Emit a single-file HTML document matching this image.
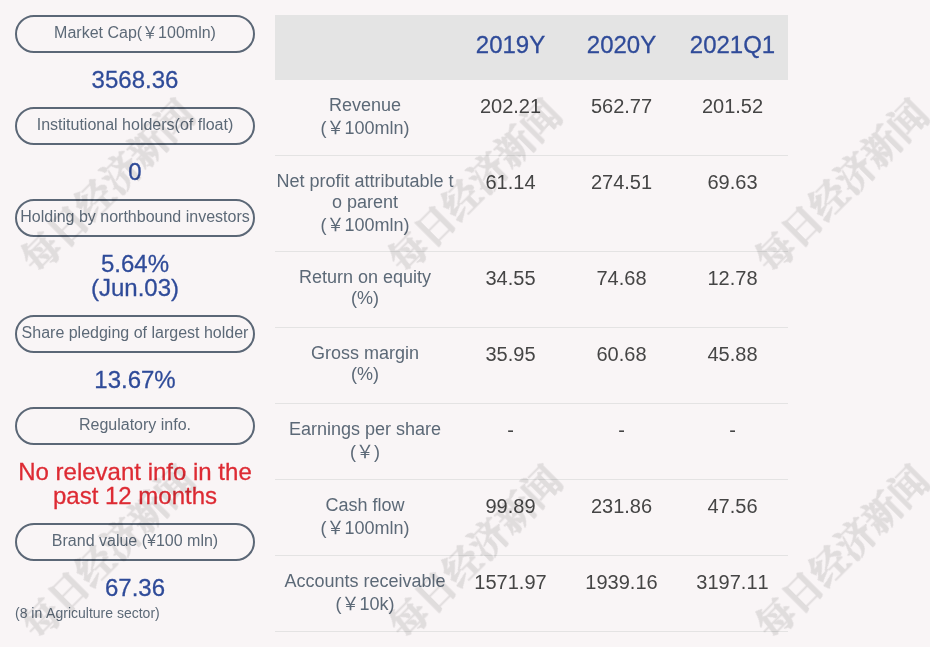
<!DOCTYPE html>
<html>
<head>
<meta charset="utf-8">
<title>Company data</title>
<style>
html,body{margin:0;padding:0;}
body{width:930px;height:647px;overflow:hidden;position:relative;background:#f9f5f6;font-family:"Liberation Sans",sans-serif;font-kerning:none;}
.wm{position:absolute;left:0;top:0;z-index:5;pointer-events:none;}
.yen{display:inline-block;vertical-align:baseline;text-align:center;font-family:"Liberation Sans","Noto Sans CJK SC",sans-serif;}
.y18{width:18px;}
.y16{width:16px;}
.left{will-change:transform;position:absolute;left:15px;top:15px;width:240px;z-index:1;}
.pill{box-sizing:border-box;width:240px;height:38px;border:2px solid #5b6776;border-radius:19px;color:#5c6977;font-size:16px;line-height:32px;text-align:center;white-space:nowrap;}
.val{-webkit-text-stroke:0.28px currentColor;color:#2f4b99;font-size:24px;line-height:24px;text-align:center;margin:15px 0 15px 0;}
.val.red{color:#dd2a33;}
.note{color:#5c6977;font-size:14px;line-height:16px;margin-top:-10px;}
table{will-change:transform;position:absolute;left:275px;top:15px;width:513px;border-collapse:separate;border-spacing:0;table-layout:fixed;z-index:1;}
th{-webkit-text-stroke:0.28px currentColor;height:65px;background:#e4e4e4;color:#2f4b99;font-size:24px;line-height:28px;font-weight:normal;padding:0 0 5px 0;box-sizing:border-box;text-align:center;vertical-align:middle;}
td{box-sizing:border-box;padding:0;text-align:center;vertical-align:top;border-bottom:1px solid #e4e3e3;}
td.lab{color:#5c6977;font-size:18px;line-height:21px;word-break:break-all;}
td.num{color:#454545;font-size:20px;line-height:24px;}
tr.r td{height:76px;}
tr.r3 td{height:96px;}
td .in{padding-top:14px;}
td.lab .in{padding-top:15px;}
.yl{display:block;line-height:23px;padding-top:1px;}
</style>
</head>
<body>
<svg class="wm" width="930" height="647" viewBox="0 0 930 647"><g opacity="0.1" fill="#000" stroke="#000" stroke-width="1" stroke-linejoin="round" font-family="'Liberation Serif','Noto Serif CJK SC',serif" font-weight="bold" font-size="37.5" text-anchor="middle"><text x="0" y="14.25" transform="translate(107.3 185.9) rotate(-45)">每日经济新闻</text><text x="0" y="14.25" transform="translate(474.3 185.9) rotate(-45)">每日经济新闻</text><text x="0" y="14.25" transform="translate(841.3 185.9) rotate(-45)">每日经济新闻</text><text x="0" y="14.25" transform="translate(107.8 551.9) rotate(-45)">每日经济新闻</text><text x="0" y="14.25" transform="translate(474.8 551.9) rotate(-45)">每日经济新闻</text><text x="0" y="14.25" transform="translate(841.8 551.9) rotate(-45)">每日经济新闻</text></g></svg>
<div class="left">
  <div class="pill">Market Cap(<span class="yen y16">￥</span>100mln)</div>
  <div class="val">3568.36</div>
  <div class="pill">Institutional holders(of float)</div>
  <div class="val">0</div>
  <div class="pill">Holding by northbound investors</div>
  <div class="val">5.64%<br>(Jun.03)</div>
  <div class="pill">Share pledging of largest holder</div>
  <div class="val">13.67%</div>
  <div class="pill">Regulatory info.</div>
  <div class="val red">No relevant info in the<br>past 12 months</div>
  <div class="pill">Brand value (¥100 mln)</div>
  <div class="val">67.36</div>
  <div class="note">(8 in Agriculture sector)</div>
</div>
<table>
  <colgroup><col style="width:180px"><col style="width:111px"><col style="width:111px"><col style="width:111px"></colgroup>
  <tr><th></th><th>2019Y</th><th>2020Y</th><th>2021Q1</th></tr>
  <tr class="r"><td class="lab"><div class="in">Revenue<span class="yl">(<span class="yen y18">￥</span>100mln)</span></div></td><td class="num"><div class="in">202.21</div></td><td class="num"><div class="in">562.77</div></td><td class="num"><div class="in">201.52</div></td></tr>
  <tr class="r3"><td class="lab"><div class="in">Net profit attributable to parent<span class="yl">(<span class="yen y18">￥</span>100mln)</span></div></td><td class="num"><div class="in">61.14</div></td><td class="num"><div class="in">274.51</div></td><td class="num"><div class="in">69.63</div></td></tr>
  <tr class="r"><td class="lab"><div class="in">Return on equity<br>(%)</div></td><td class="num"><div class="in">34.55</div></td><td class="num"><div class="in">74.68</div></td><td class="num"><div class="in">12.78</div></td></tr>
  <tr class="r"><td class="lab"><div class="in">Gross margin<br>(%)</div></td><td class="num"><div class="in">35.95</div></td><td class="num"><div class="in">60.68</div></td><td class="num"><div class="in">45.88</div></td></tr>
  <tr class="r"><td class="lab"><div class="in">Earnings per share<span class="yl">(<span class="yen y18">￥</span>)</span></div></td><td class="num"><div class="in">-</div></td><td class="num"><div class="in">-</div></td><td class="num"><div class="in">-</div></td></tr>
  <tr class="r"><td class="lab"><div class="in">Cash flow<span class="yl">(<span class="yen y18">￥</span>100mln)</span></div></td><td class="num"><div class="in">99.89</div></td><td class="num"><div class="in">231.86</div></td><td class="num"><div class="in">47.56</div></td></tr>
  <tr class="r"><td class="lab"><div class="in">Accounts receivable<span class="yl">(<span class="yen y18">￥</span>10k)</span></div></td><td class="num"><div class="in">1571.97</div></td><td class="num"><div class="in">1939.16</div></td><td class="num"><div class="in">3197.11</div></td></tr>
</table>
</body>
</html>
